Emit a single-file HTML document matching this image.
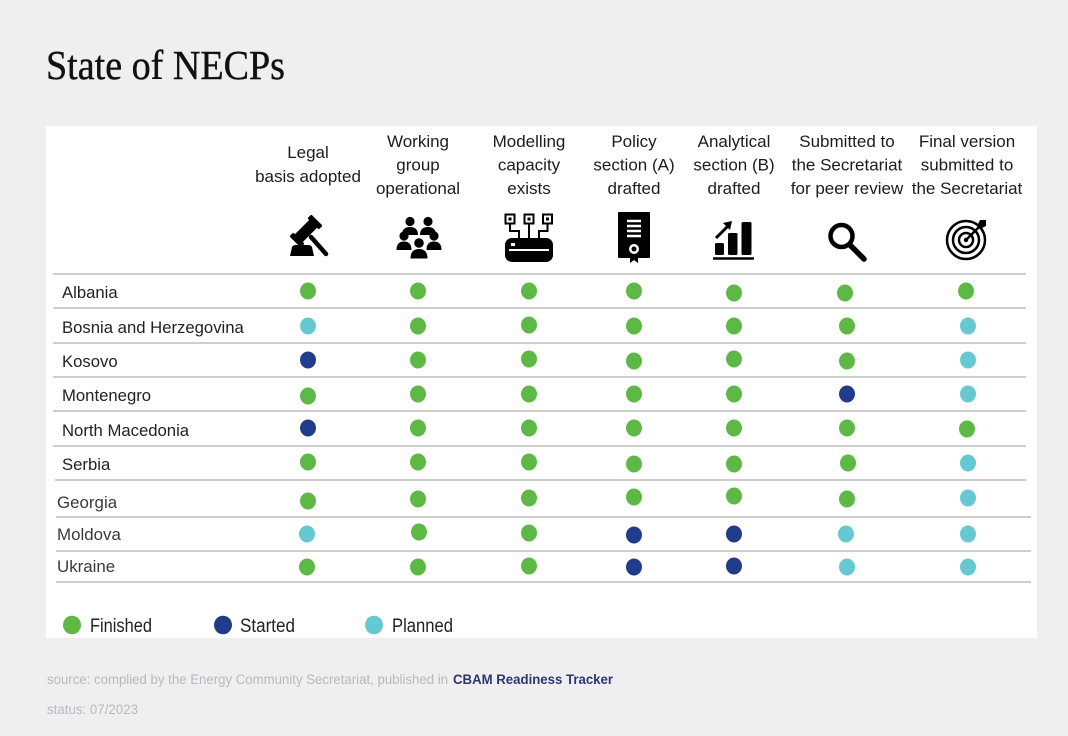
<!DOCTYPE html>
<html><head><meta charset="utf-8"><style>
html,body{margin:0;padding:0;background:#efefef;}
svg{display:block;}
text{font-family:"Liberation Sans",sans-serif;}
</style></head><body>
<svg width="1068" height="736" viewBox="0 0 1068 736" xmlns="http://www.w3.org/2000/svg">
<rect width="1068" height="736" fill="#efefef"/>
<text x="46" y="79" style="font-family:'Liberation Serif',serif" font-size="41" fill="#111" stroke="#111" stroke-width="0.4" textLength="239" lengthAdjust="spacingAndGlyphs">State of NECPs</text>
<rect x="46" y="126" width="991" height="512" fill="#fff"/>

<g font-size="17" fill="#1c1c1c" text-anchor="middle">
<text x="308" y="158">Legal</text><text x="308" y="182">basis adopted</text>
<text x="418" y="147">Working</text><text x="418" y="170.5">group</text><text x="418" y="194">operational</text>
<text x="529" y="147">Modelling</text><text x="529" y="170.5">capacity</text><text x="529" y="194">exists</text>
<text x="634" y="147">Policy</text><text x="634" y="170.5">section (A)</text><text x="634" y="194">drafted</text>
<text x="734" y="147">Analytical</text><text x="734" y="170.5">section (B)</text><text x="734" y="194">drafted</text>
<text x="847" y="147">Submitted to</text><text x="847" y="170.5">the Secretariat</text><text x="847" y="194">for peer review</text>
<text x="967" y="147">Final version</text><text x="967" y="170.5">submitted to</text><text x="967" y="194">the Secretariat</text>
</g>

<!-- icons -->
<g fill="#000" stroke="none">
<path d="M290,256 L314,256 L312,247 Q311,245 308,245 L296,245 Q293,245 292,247 Z"/>
<g transform="rotate(-45 306 231)">
<rect x="294" y="225.5" width="24" height="11" rx="2"/>
<rect x="290.5" y="223" width="5.5" height="16" rx="1.5"/><rect x="316" y="223" width="5.5" height="16" rx="1.5"/>
</g>
<line x1="311" y1="237" x2="326" y2="254" stroke="#000" stroke-width="4.5" stroke-linecap="round"/>
<g>
<circle cx="410" cy="221.5" r="4.6"/><path d="M402,235 Q402,227 410,227 Q418,227 418,235 Z"/>
<circle cx="428" cy="221.5" r="4.6"/><path d="M420,235 Q420,227 428,227 Q436,227 436,235 Z"/>
<circle cx="404" cy="236" r="4.6"/><path d="M396.5,250 Q396.5,241.5 404,241.5 Q411.5,241.5 411.5,250 Z"/>
<circle cx="434" cy="236" r="4.6"/><path d="M426.5,250 Q426.5,241.5 434,241.5 Q441.5,241.5 441.5,250 Z"/>
<circle cx="419" cy="243" r="4.8"/><path d="M410.5,258.5 Q410.5,249 419,249 Q427.5,249 427.5,258.5 Z"/>
</g>
<g fill="none" stroke="#000" stroke-width="2">
<rect x="505.5" y="214.5" width="9" height="9"/><rect x="524.5" y="214.5" width="9" height="9"/><rect x="543" y="214.5" width="9" height="9"/>
<path d="M510,224 V231 H519 V239"/><path d="M529,224 V239"/><path d="M547.5,224 V231 H539 V239"/>
</g>
<rect x="508.5" y="217.5" width="3" height="3"/><rect x="527.5" y="217.5" width="3" height="3"/><rect x="546" y="217.5" width="3" height="3"/>
<rect x="505" y="238" width="48" height="24" rx="7"/>
<line x1="509" y1="250" x2="549" y2="250" stroke="#fff" stroke-width="2"/>
<rect x="511" y="243" width="4" height="3" fill="#fff"/>
<rect x="618" y="212" width="32" height="46" rx="1"/>
<g stroke="#fff" stroke-width="2.5"><line x1="627" y1="221" x2="641" y2="221"/><line x1="627" y1="226" x2="641" y2="226"/><line x1="627" y1="231" x2="641" y2="231"/><line x1="627" y1="236" x2="641" y2="236"/></g>
<circle cx="634" cy="249" r="5" fill="#fff"/><circle cx="634" cy="249" r="2.5"/>
<path d="M630,256 L630,263 L634,260 L638,263 L638,256 Z"/>
<rect x="715" y="243" width="9" height="12" rx="1.5"/>
<rect x="728" y="233" width="9.5" height="22" rx="1.5"/>
<rect x="741.5" y="222" width="10" height="33" rx="1.5"/>
<line x1="713" y1="258.5" x2="754" y2="258.5" stroke="#000" stroke-width="2.5"/>
<line x1="716" y1="238" x2="729" y2="225" stroke="#000" stroke-width="3"/>
<path d="M732,221 L723,223 L730,230 Z"/>
<circle cx="841.5" cy="236" r="11" fill="none" stroke="#000" stroke-width="4.5"/>
<line x1="850" y1="245" x2="864" y2="259" stroke="#000" stroke-width="5.5" stroke-linecap="round"/>
<g fill="none" stroke="#000" stroke-width="2.5">
<circle cx="966" cy="240" r="19"/><circle cx="966" cy="240" r="13"/><circle cx="966" cy="240" r="7"/>
</g>
<circle cx="966" cy="240" r="2.2"/>
<line x1="966" y1="240" x2="982" y2="224" stroke="#000" stroke-width="2.5"/>
<path d="M980,220 L986,220 L986,226 L982,228 L978,224 Z"/>
</g>

<g stroke="#cdcdcd" stroke-width="2">
<line x1="53" y1="274" x2="1026" y2="274"/>
<line x1="53" y1="308" x2="1026" y2="308"/>
<line x1="53" y1="343" x2="1026" y2="343"/>
<line x1="53" y1="377" x2="1026" y2="377"/>
<line x1="53" y1="411" x2="1026" y2="411"/>
<line x1="53" y1="446" x2="1026" y2="446"/>
<line x1="55" y1="480" x2="1026" y2="480"/>
<line x1="56" y1="517" x2="1031" y2="517"/>
<line x1="56" y1="551" x2="1031" y2="551"/>
<line x1="56" y1="582" x2="1031" y2="582"/>
</g>

<g font-size="16.7" fill="#222">
<text x="62" y="298">Albania</text>
<text x="62" y="333">Bosnia and Herzegovina</text>
<text x="62" y="367">Kosovo</text>
<text x="62" y="401">Montenegro</text>
<text x="62" y="436">North Macedonia</text>
<text x="62" y="470">Serbia</text>
</g>
<g font-size="16.9" fill="#3a3a3a">
<text x="57" y="508">Georgia</text>
<text x="57" y="540">Moldova</text>
<text x="57" y="572">Ukraine</text>
</g>

<g>
<ellipse cx="308" cy="291" rx="8" ry="8.5" fill="#5db845"/>
<ellipse cx="308" cy="326" rx="8" ry="8.5" fill="#66c9d1"/>
<ellipse cx="308" cy="360" rx="8" ry="8.5" fill="#213c8c"/>
<ellipse cx="308" cy="396" rx="8" ry="8.5" fill="#5db845"/>
<ellipse cx="308" cy="428" rx="8" ry="8.5" fill="#213c8c"/>
<ellipse cx="308" cy="462" rx="8" ry="8.5" fill="#5db845"/>
<ellipse cx="308" cy="501" rx="8" ry="8.5" fill="#5db845"/>
<ellipse cx="307" cy="534" rx="8" ry="8.5" fill="#66c9d1"/>
<ellipse cx="307" cy="567" rx="8" ry="8.5" fill="#5db845"/>
<ellipse cx="418" cy="291" rx="8" ry="8.5" fill="#5db845"/>
<ellipse cx="418" cy="326" rx="8" ry="8.5" fill="#5db845"/>
<ellipse cx="418" cy="360" rx="8" ry="8.5" fill="#5db845"/>
<ellipse cx="418" cy="394" rx="8" ry="8.5" fill="#5db845"/>
<ellipse cx="418" cy="428" rx="8" ry="8.5" fill="#5db845"/>
<ellipse cx="418" cy="462" rx="8" ry="8.5" fill="#5db845"/>
<ellipse cx="418" cy="499" rx="8" ry="8.5" fill="#5db845"/>
<ellipse cx="419" cy="532" rx="8" ry="8.5" fill="#5db845"/>
<ellipse cx="418" cy="567" rx="8" ry="8.5" fill="#5db845"/>
<ellipse cx="529" cy="291" rx="8" ry="8.5" fill="#5db845"/>
<ellipse cx="529" cy="325" rx="8" ry="8.5" fill="#5db845"/>
<ellipse cx="529" cy="359" rx="8" ry="8.5" fill="#5db845"/>
<ellipse cx="529" cy="394" rx="8" ry="8.5" fill="#5db845"/>
<ellipse cx="529" cy="428" rx="8" ry="8.5" fill="#5db845"/>
<ellipse cx="529" cy="462" rx="8" ry="8.5" fill="#5db845"/>
<ellipse cx="529" cy="498" rx="8" ry="8.5" fill="#5db845"/>
<ellipse cx="529" cy="533" rx="8" ry="8.5" fill="#5db845"/>
<ellipse cx="529" cy="566" rx="8" ry="8.5" fill="#5db845"/>
<ellipse cx="634" cy="291" rx="8" ry="8.5" fill="#5db845"/>
<ellipse cx="634" cy="326" rx="8" ry="8.5" fill="#5db845"/>
<ellipse cx="634" cy="361" rx="8" ry="8.5" fill="#5db845"/>
<ellipse cx="634" cy="394" rx="8" ry="8.5" fill="#5db845"/>
<ellipse cx="634" cy="428" rx="8" ry="8.5" fill="#5db845"/>
<ellipse cx="634" cy="464" rx="8" ry="8.5" fill="#5db845"/>
<ellipse cx="634" cy="497" rx="8" ry="8.5" fill="#5db845"/>
<ellipse cx="634" cy="535" rx="8" ry="8.5" fill="#213c8c"/>
<ellipse cx="634" cy="567" rx="8" ry="8.5" fill="#213c8c"/>
<ellipse cx="734" cy="293" rx="8" ry="8.5" fill="#5db845"/>
<ellipse cx="734" cy="326" rx="8" ry="8.5" fill="#5db845"/>
<ellipse cx="734" cy="359" rx="8" ry="8.5" fill="#5db845"/>
<ellipse cx="734" cy="394" rx="8" ry="8.5" fill="#5db845"/>
<ellipse cx="734" cy="428" rx="8" ry="8.5" fill="#5db845"/>
<ellipse cx="734" cy="464" rx="8" ry="8.5" fill="#5db845"/>
<ellipse cx="734" cy="496" rx="8" ry="8.5" fill="#5db845"/>
<ellipse cx="734" cy="534" rx="8" ry="8.5" fill="#213c8c"/>
<ellipse cx="734" cy="566" rx="8" ry="8.5" fill="#213c8c"/>
<ellipse cx="845" cy="293" rx="8" ry="8.5" fill="#5db845"/>
<ellipse cx="847" cy="326" rx="8" ry="8.5" fill="#5db845"/>
<ellipse cx="847" cy="361" rx="8" ry="8.5" fill="#5db845"/>
<ellipse cx="847" cy="394" rx="8" ry="8.5" fill="#213c8c"/>
<ellipse cx="847" cy="428" rx="8" ry="8.5" fill="#5db845"/>
<ellipse cx="848" cy="463" rx="8" ry="8.5" fill="#5db845"/>
<ellipse cx="847" cy="499" rx="8" ry="8.5" fill="#5db845"/>
<ellipse cx="846" cy="534" rx="8" ry="8.5" fill="#66c9d1"/>
<ellipse cx="847" cy="567" rx="8" ry="8.5" fill="#66c9d1"/>
<ellipse cx="966" cy="291" rx="8" ry="8.5" fill="#5db845"/>
<ellipse cx="968" cy="326" rx="8" ry="8.5" fill="#66c9d1"/>
<ellipse cx="968" cy="360" rx="8" ry="8.5" fill="#66c9d1"/>
<ellipse cx="968" cy="394" rx="8" ry="8.5" fill="#66c9d1"/>
<ellipse cx="967" cy="429" rx="8" ry="8.5" fill="#5db845"/>
<ellipse cx="968" cy="463" rx="8" ry="8.5" fill="#66c9d1"/>
<ellipse cx="968" cy="498" rx="8" ry="8.5" fill="#66c9d1"/>
<ellipse cx="968" cy="534" rx="8" ry="8.5" fill="#66c9d1"/>
<ellipse cx="968" cy="567" rx="8" ry="8.5" fill="#66c9d1"/>
</g>

<ellipse cx="72" cy="625" rx="9" ry="9.3" fill="#5db845"/>
<ellipse cx="223" cy="625" rx="9" ry="9.3" fill="#213c8c"/>
<ellipse cx="374" cy="625" rx="9" ry="9.3" fill="#66c9d1"/>
<g font-size="19" fill="#222">
<text x="90" y="632" textLength="62" lengthAdjust="spacingAndGlyphs">Finished</text>
<text x="240" y="632" textLength="55" lengthAdjust="spacingAndGlyphs">Started</text>
<text x="392" y="632" textLength="61" lengthAdjust="spacingAndGlyphs">Planned</text>
</g>

<text x="47" y="684" font-size="13.5" fill="#b8b8c0" textLength="401" lengthAdjust="spacingAndGlyphs">source: complied by the Energy Community Secretariat, published in</text>
<text x="453" y="684" font-size="13.5" font-weight="bold" fill="#2c3772" textLength="160" lengthAdjust="spacingAndGlyphs">CBAM Readiness Tracker</text>
<text x="47" y="714" font-size="13.5" fill="#b8b8c0" textLength="91" lengthAdjust="spacingAndGlyphs">status: 07/2023</text>
</svg>
</body></html>
